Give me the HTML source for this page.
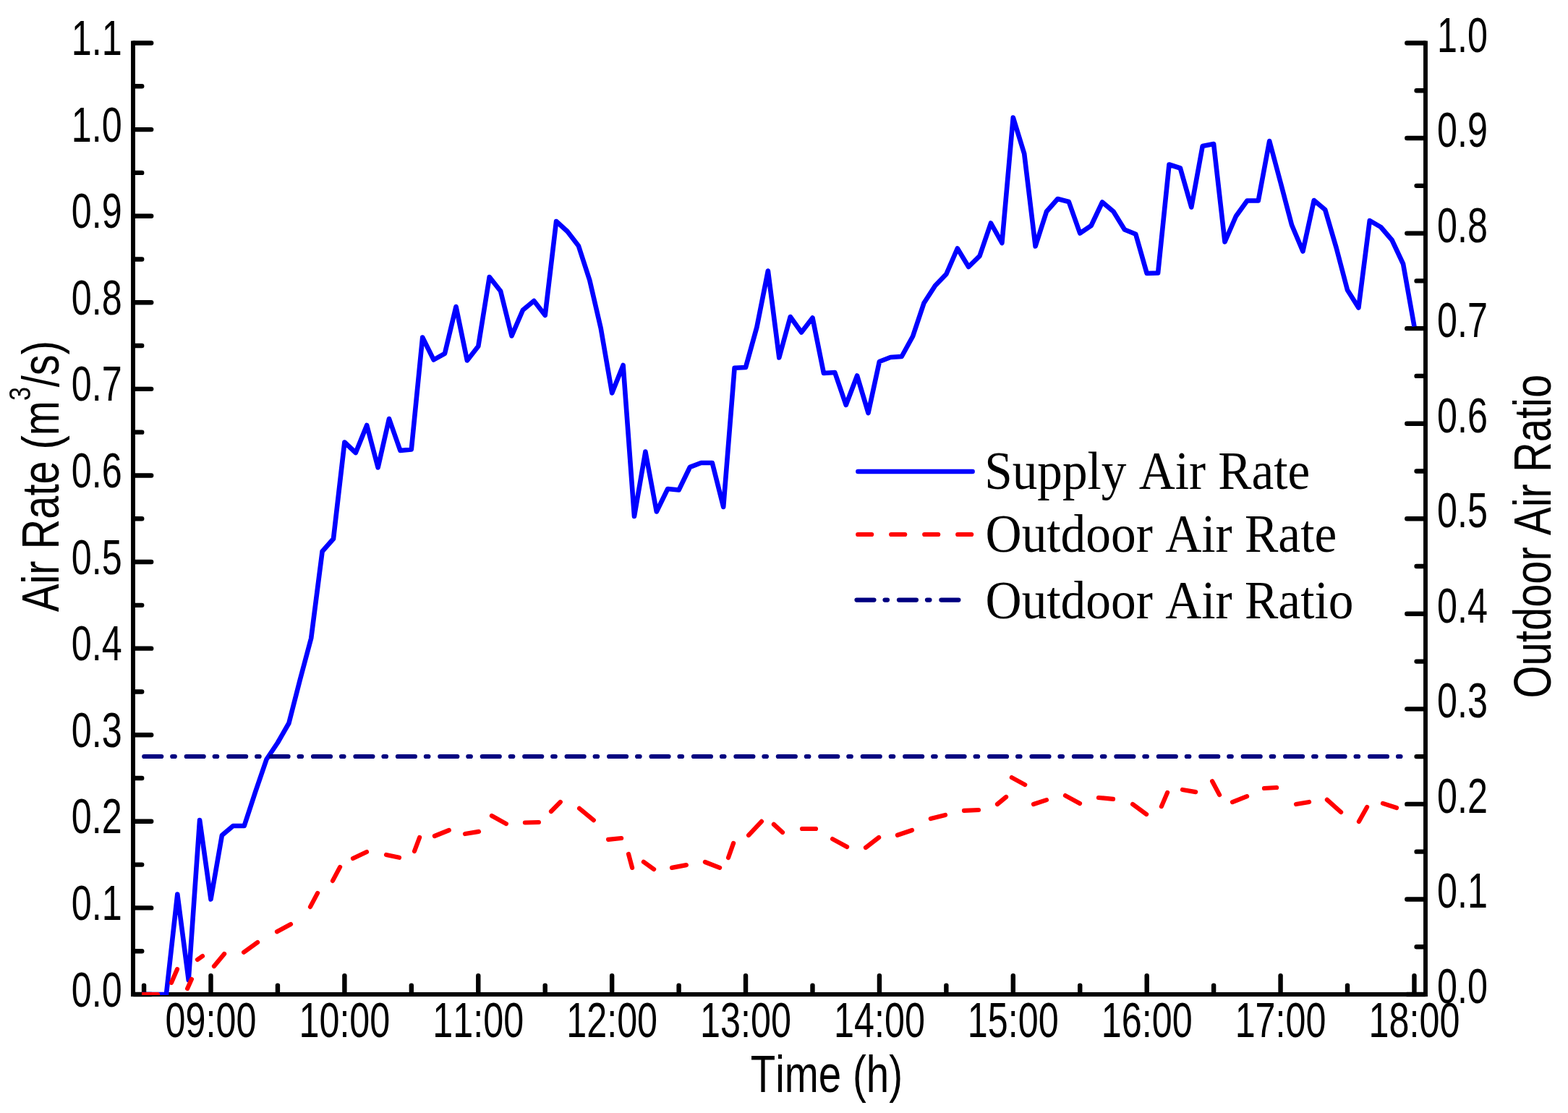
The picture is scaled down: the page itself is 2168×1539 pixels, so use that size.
<!DOCTYPE html>
<html lang="en"><head><meta charset="utf-8"><title>Air Rate</title>
<style>
html,body{margin:0;padding:0;background:#fff;}
body{width:2168px;height:1539px;}
svg{display:block;}
.sans{font-family:"Liberation Sans",sans-serif;fill:#000;font-kerning:none;}
.serif{font-family:"Liberation Serif",serif;fill:#000;font-kerning:none;}
.ax{stroke:#000;stroke-width:5.9;fill:none;}
.tk{stroke:#000;stroke-width:6.4;fill:none;stroke-linecap:round;}
</style></head><body>
<svg width="2168" height="1539" viewBox="0 0 2168 1539" role="img" aria-label="Supply air rate, outdoor air rate and outdoor air ratio versus time">
<rect width="2168" height="1539" fill="#fff"/>
<path class="ax" d="M184.0 56.5 V1375.0 H1971.0 V56.5" stroke-linejoin="miter"/>
<line class="tk" x1="185.0" y1="1375.00" x2="209.2" y2="1375.00"/>
<line class="tk" x1="185.0" y1="1315.20" x2="196.2" y2="1315.20"/>
<line class="tk" x1="185.0" y1="1255.41" x2="209.2" y2="1255.41"/>
<line class="tk" x1="185.0" y1="1195.61" x2="196.2" y2="1195.61"/>
<line class="tk" x1="185.0" y1="1135.82" x2="209.2" y2="1135.82"/>
<line class="tk" x1="185.0" y1="1076.02" x2="196.2" y2="1076.02"/>
<line class="tk" x1="185.0" y1="1016.23" x2="209.2" y2="1016.23"/>
<line class="tk" x1="185.0" y1="956.43" x2="196.2" y2="956.43"/>
<line class="tk" x1="185.0" y1="896.64" x2="209.2" y2="896.64"/>
<line class="tk" x1="185.0" y1="836.84" x2="196.2" y2="836.84"/>
<line class="tk" x1="185.0" y1="777.05" x2="209.2" y2="777.05"/>
<line class="tk" x1="185.0" y1="717.25" x2="196.2" y2="717.25"/>
<line class="tk" x1="185.0" y1="657.45" x2="209.2" y2="657.45"/>
<line class="tk" x1="185.0" y1="597.66" x2="196.2" y2="597.66"/>
<line class="tk" x1="185.0" y1="537.86" x2="209.2" y2="537.86"/>
<line class="tk" x1="185.0" y1="478.07" x2="196.2" y2="478.07"/>
<line class="tk" x1="185.0" y1="418.27" x2="209.2" y2="418.27"/>
<line class="tk" x1="185.0" y1="358.48" x2="196.2" y2="358.48"/>
<line class="tk" x1="185.0" y1="298.68" x2="209.2" y2="298.68"/>
<line class="tk" x1="185.0" y1="238.89" x2="196.2" y2="238.89"/>
<line class="tk" x1="185.0" y1="179.09" x2="209.2" y2="179.09"/>
<line class="tk" x1="185.0" y1="119.30" x2="196.2" y2="119.30"/>
<line class="tk" x1="185.0" y1="59.50" x2="209.2" y2="59.50"/>
<line class="tk" x1="1970.0" y1="1375.00" x2="1945.3" y2="1375.00"/>
<line class="tk" x1="1970.0" y1="1309.22" x2="1958.6" y2="1309.22"/>
<line class="tk" x1="1970.0" y1="1243.45" x2="1945.3" y2="1243.45"/>
<line class="tk" x1="1970.0" y1="1177.67" x2="1958.6" y2="1177.67"/>
<line class="tk" x1="1970.0" y1="1111.90" x2="1945.3" y2="1111.90"/>
<line class="tk" x1="1970.0" y1="1046.12" x2="1958.6" y2="1046.12"/>
<line class="tk" x1="1970.0" y1="980.35" x2="1945.3" y2="980.35"/>
<line class="tk" x1="1970.0" y1="914.58" x2="1958.6" y2="914.58"/>
<line class="tk" x1="1970.0" y1="848.80" x2="1945.3" y2="848.80"/>
<line class="tk" x1="1970.0" y1="783.02" x2="1958.6" y2="783.02"/>
<line class="tk" x1="1970.0" y1="717.25" x2="1945.3" y2="717.25"/>
<line class="tk" x1="1970.0" y1="651.48" x2="1958.6" y2="651.48"/>
<line class="tk" x1="1970.0" y1="585.70" x2="1945.3" y2="585.70"/>
<line class="tk" x1="1970.0" y1="519.92" x2="1958.6" y2="519.92"/>
<line class="tk" x1="1970.0" y1="454.15" x2="1945.3" y2="454.15"/>
<line class="tk" x1="1970.0" y1="388.38" x2="1958.6" y2="388.38"/>
<line class="tk" x1="1970.0" y1="322.60" x2="1945.3" y2="322.60"/>
<line class="tk" x1="1970.0" y1="256.83" x2="1958.6" y2="256.83"/>
<line class="tk" x1="1970.0" y1="191.05" x2="1945.3" y2="191.05"/>
<line class="tk" x1="1970.0" y1="125.28" x2="1958.6" y2="125.28"/>
<line class="tk" x1="1970.0" y1="59.50" x2="1945.3" y2="59.50"/>
<line class="tk" x1="199.06" y1="1374.0" x2="199.06" y2="1362.6"/>
<line class="tk" x1="291.50" y1="1374.0" x2="291.50" y2="1349.3"/>
<line class="tk" x1="383.94" y1="1374.0" x2="383.94" y2="1362.6"/>
<line class="tk" x1="476.39" y1="1374.0" x2="476.39" y2="1349.3"/>
<line class="tk" x1="568.83" y1="1374.0" x2="568.83" y2="1362.6"/>
<line class="tk" x1="661.27" y1="1374.0" x2="661.27" y2="1349.3"/>
<line class="tk" x1="753.71" y1="1374.0" x2="753.71" y2="1362.6"/>
<line class="tk" x1="846.15" y1="1374.0" x2="846.15" y2="1349.3"/>
<line class="tk" x1="938.60" y1="1374.0" x2="938.60" y2="1362.6"/>
<line class="tk" x1="1031.04" y1="1374.0" x2="1031.04" y2="1349.3"/>
<line class="tk" x1="1123.48" y1="1374.0" x2="1123.48" y2="1362.6"/>
<line class="tk" x1="1215.92" y1="1374.0" x2="1215.92" y2="1349.3"/>
<line class="tk" x1="1308.36" y1="1374.0" x2="1308.36" y2="1362.6"/>
<line class="tk" x1="1400.81" y1="1374.0" x2="1400.81" y2="1349.3"/>
<line class="tk" x1="1493.25" y1="1374.0" x2="1493.25" y2="1362.6"/>
<line class="tk" x1="1585.69" y1="1374.0" x2="1585.69" y2="1349.3"/>
<line class="tk" x1="1678.13" y1="1374.0" x2="1678.13" y2="1362.6"/>
<line class="tk" x1="1770.57" y1="1374.0" x2="1770.57" y2="1349.3"/>
<line class="tk" x1="1863.02" y1="1374.0" x2="1863.02" y2="1362.6"/>
<line class="tk" x1="1955.46" y1="1374.0" x2="1955.46" y2="1349.3"/>
<defs><clipPath id="plot"><rect x="196" y="0" width="1772" height="1376"/></clipPath></defs>
<g clip-path="url(#plot)">
<polyline points="196.0,1375.0 199.1,1375.0 214.5,1375.0 229.9,1375.0 245.3,1236.5 260.7,1355.0 276.1,1134.0 291.5,1243.5 306.9,1155.0 322.3,1142.0 337.7,1142.0 353.1,1095.0 368.5,1050.0 383.9,1027.0 399.4,1000.0 414.8,940.0 430.2,882.5 445.6,762.5 461.0,745.0 476.4,611.5 491.8,626.0 507.2,588.0 522.6,646.5 538.0,579.0 553.4,623.0 568.8,621.5 584.2,466.5 599.6,497.5 615.0,488.8 630.5,424.0 645.9,498.5 661.3,478.8 676.7,383.0 692.1,402.5 707.5,464.5 722.9,428.8 738.3,416.0 753.7,436.0 769.1,306.0 784.5,320.0 799.9,340.0 815.3,387.5 830.7,453.8 846.2,543.5 861.6,505.0 877.0,714.0 892.4,624.5 907.8,707.5 923.2,676.0 938.6,677.5 954.0,645.8 969.4,640.0 984.8,640.0 1000.2,701.0 1015.6,508.8 1031.0,508.0 1046.4,452.5 1061.9,374.5 1077.3,494.5 1092.7,438.0 1108.1,459.5 1123.5,439.5 1138.9,516.0 1154.3,515.0 1169.7,560.0 1185.1,519.5 1200.5,571.0 1215.9,500.0 1231.3,494.0 1246.7,493.0 1262.1,465.0 1277.5,419.0 1293.0,395.0 1308.4,379.0 1323.8,343.5 1339.2,369.0 1354.6,353.8 1370.0,308.5 1385.4,336.0 1400.8,162.5 1416.2,212.5 1431.6,340.5 1447.0,292.5 1462.4,275.0 1477.8,279.0 1493.2,322.5 1508.7,312.0 1524.1,279.5 1539.5,292.5 1554.9,317.5 1570.3,323.8 1585.7,378.0 1601.1,377.5 1616.5,227.5 1631.9,232.5 1647.3,286.5 1662.7,202.0 1678.1,199.0 1693.5,334.5 1708.9,299.0 1724.4,277.5 1739.8,277.5 1755.2,195.0 1770.6,252.5 1786.0,311.0 1801.4,347.5 1816.8,277.0 1832.2,290.0 1847.6,342.5 1863.0,401.0 1878.4,425.5 1893.8,305.0 1909.2,314.0 1924.6,332.0 1940.1,365.0 1955.5,451.5" fill="none" stroke="#0000ff" stroke-width="6.6" stroke-linejoin="round" stroke-linecap="butt"/>
<path d="M196.0 1375.0L218.0 1375.0 M237.0 1358.8L245.0 1340.2 M259.1 1366.9L264.9 1354.0 M273.0 1327.0L280.0 1322.0 M296.0 1336.0L310.1 1319.0 M337.1 1316.8L356.1 1303.1 M383.0 1288.2L402.0 1278.0 M429.0 1253.9L439.1 1234.9 M460.0 1217.9L470.1 1198.9 M488.0 1187.0L507.0 1178.0 M534.0 1182.0L552.0 1185.8 M573.0 1177.0L580.1 1158.0 M600.9 1156.0L620.8 1148.0 M643.0 1153.0L662.0 1149.9 M679.9 1128.0L699.9 1139.1 M725.9 1137.5L744.9 1137.0 M762.0 1122.0L774.8 1109.0 M801.1 1117.8L820.8 1134.1 M841.1 1160.8L859.1 1159.0 M869.0 1180.9L874.1 1199.9 M889.9 1191.8L904.1 1202.0 M929.0 1199.9L948.9 1196.1 M974.9 1192.0L995.1 1199.9 M1007.0 1186.0L1014.1 1165.9 M1035.1 1154.9L1053.0 1135.9 M1069.9 1139.9L1082.0 1151.0 M1109.0 1146.0L1128.0 1146.0 M1151.1 1160.1L1171.1 1171.0 M1197.0 1172.0L1215.1 1158.0 M1240.9 1154.8L1261.0 1148.0 M1286.8 1132.0L1307.0 1127.0 M1333.0 1120.8L1353.0 1120.0 M1379.0 1112.0L1391.1 1102.0 M1398.9 1075.1L1417.2 1085.1 M1429.0 1112.0L1447.0 1106.1 M1473.0 1100.1L1493.0 1111.0 M1519.0 1103.0L1539.0 1104.9 M1566.1 1112.0L1585.1 1126.0 M1605.9 1115.1L1614.1 1095.9 M1634.9 1092.0L1653.2 1095.1 M1676.1 1080.2L1686.1 1099.1 M1704.0 1109.1L1724.1 1101.1 M1748.0 1090.0L1765.1 1089.0 M1792.0 1112.0L1810.1 1109.0 M1834.9 1105.9L1854.1 1123.0 M1878.9 1136.0L1890.1 1115.9 M1912.0 1110.9L1931.0 1117.0" fill="none" stroke="#ff0000" stroke-width="6.2" stroke-linecap="round"/>
<line x1="199.25" y1="1046" x2="1945" y2="1046" stroke="#000080" stroke-width="6.2" stroke-linecap="round" stroke-dasharray="24 15 3.5 15.94"/>
</g>
<text class="sans" transform="translate(168.80 1391.50) scale(0.7420 1)" font-size="67.8" text-anchor="end">0.0</text>
<text class="sans" transform="translate(168.80 1271.91) scale(0.7420 1)" font-size="67.8" text-anchor="end">0.1</text>
<text class="sans" transform="translate(168.80 1152.32) scale(0.7420 1)" font-size="67.8" text-anchor="end">0.2</text>
<text class="sans" transform="translate(168.80 1032.73) scale(0.7420 1)" font-size="67.8" text-anchor="end">0.3</text>
<text class="sans" transform="translate(168.80 913.14) scale(0.7420 1)" font-size="67.8" text-anchor="end">0.4</text>
<text class="sans" transform="translate(168.80 793.55) scale(0.7420 1)" font-size="67.8" text-anchor="end">0.5</text>
<text class="sans" transform="translate(168.80 673.95) scale(0.7420 1)" font-size="67.8" text-anchor="end">0.6</text>
<text class="sans" transform="translate(168.80 554.36) scale(0.7420 1)" font-size="67.8" text-anchor="end">0.7</text>
<text class="sans" transform="translate(168.80 434.77) scale(0.7420 1)" font-size="67.8" text-anchor="end">0.8</text>
<text class="sans" transform="translate(168.80 315.18) scale(0.7420 1)" font-size="67.8" text-anchor="end">0.9</text>
<text class="sans" transform="translate(168.80 195.59) scale(0.7420 1)" font-size="67.8" text-anchor="end">1.0</text>
<text class="sans" transform="translate(168.80 76.00) scale(0.7420 1)" font-size="67.8" text-anchor="end">1.1</text>
<text class="sans" transform="translate(1987.00 1387.00) scale(0.7420 1)" font-size="67.8" text-anchor="start">0.0</text>
<text class="sans" transform="translate(1987.00 1255.45) scale(0.7420 1)" font-size="67.8" text-anchor="start">0.1</text>
<text class="sans" transform="translate(1987.00 1123.90) scale(0.7420 1)" font-size="67.8" text-anchor="start">0.2</text>
<text class="sans" transform="translate(1987.00 992.35) scale(0.7420 1)" font-size="67.8" text-anchor="start">0.3</text>
<text class="sans" transform="translate(1987.00 860.80) scale(0.7420 1)" font-size="67.8" text-anchor="start">0.4</text>
<text class="sans" transform="translate(1987.00 729.25) scale(0.7420 1)" font-size="67.8" text-anchor="start">0.5</text>
<text class="sans" transform="translate(1987.00 597.70) scale(0.7420 1)" font-size="67.8" text-anchor="start">0.6</text>
<text class="sans" transform="translate(1987.00 466.15) scale(0.7420 1)" font-size="67.8" text-anchor="start">0.7</text>
<text class="sans" transform="translate(1987.00 334.60) scale(0.7420 1)" font-size="67.8" text-anchor="start">0.8</text>
<text class="sans" transform="translate(1987.00 203.05) scale(0.7420 1)" font-size="67.8" text-anchor="start">0.9</text>
<text class="sans" transform="translate(1987.00 71.50) scale(0.7420 1)" font-size="67.8" text-anchor="start">1.0</text>
<text class="sans" transform="translate(291.50 1434.00) scale(0.7420 1)" font-size="67.8" text-anchor="middle">09:00</text>
<text class="sans" transform="translate(476.39 1434.00) scale(0.7420 1)" font-size="67.8" text-anchor="middle">10:00</text>
<text class="sans" transform="translate(661.27 1434.00) scale(0.7420 1)" font-size="67.8" text-anchor="middle">11:00</text>
<text class="sans" transform="translate(846.15 1434.00) scale(0.7420 1)" font-size="67.8" text-anchor="middle">12:00</text>
<text class="sans" transform="translate(1031.04 1434.00) scale(0.7420 1)" font-size="67.8" text-anchor="middle">13:00</text>
<text class="sans" transform="translate(1215.92 1434.00) scale(0.7420 1)" font-size="67.8" text-anchor="middle">14:00</text>
<text class="sans" transform="translate(1400.81 1434.00) scale(0.7420 1)" font-size="67.8" text-anchor="middle">15:00</text>
<text class="sans" transform="translate(1585.69 1434.00) scale(0.7420 1)" font-size="67.8" text-anchor="middle">16:00</text>
<text class="sans" transform="translate(1770.57 1434.00) scale(0.7420 1)" font-size="67.8" text-anchor="middle">17:00</text>
<text class="sans" transform="translate(1955.46 1434.00) scale(0.7420 1)" font-size="67.8" text-anchor="middle">18:00</text>
<text class="sans" transform="translate(1037.70 1510.00) scale(0.7825 1)" font-size="72.2" text-anchor="start">Time (h)</text>
<text class="sans" transform="translate(81.20 846.00) rotate(-90) scale(0.8000 1)" font-size="72.2" text-anchor="start">Air Rate (m<tspan dy="-39.5" font-size="42.4">3</tspan><tspan dy="39.5">/s)</tspan></text>
<text class="sans" transform="translate(2143.60 965.50) rotate(-90) scale(0.8028 1)" font-size="72.2" text-anchor="start">Outdoor Air Ratio</text>
<line x1="1186.4" y1="652" x2="1344.6" y2="652" stroke="#0000ff" stroke-width="6.6" stroke-linecap="round"/>
<line x1="1186.2" y1="739" x2="1347.8" y2="739" stroke="#ff0000" stroke-width="6.2" stroke-linecap="round" stroke-dasharray="19 27"/>
<line x1="1184.5" y1="829.6" x2="1326" y2="829.6" stroke="#000080" stroke-width="6.2" stroke-linecap="round" stroke-dasharray="24 15 3.5 15.94"/>
<text class="serif" transform="translate(1361.20 675.60) scale(0.9395 1)" font-size="73.7" text-anchor="start">Supply Air Rate</text>
<text class="serif" transform="translate(1362.50 762.80) scale(0.9420 1)" font-size="73.7" text-anchor="start">Outdoor Air Rate</text>
<text class="serif" transform="translate(1362.50 855.20) scale(0.9420 1)" font-size="73.7" text-anchor="start">Outdoor Air Ratio</text>
</svg>
</body></html>
